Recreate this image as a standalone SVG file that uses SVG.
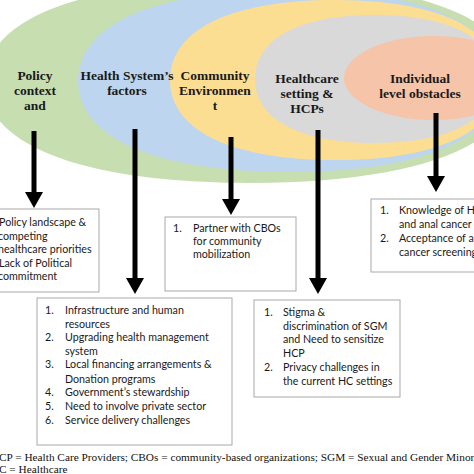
<svg xmlns="http://www.w3.org/2000/svg" width="474" height="474" viewBox="0 0 474 474">
<style>
.lbl{font-family:"Liberation Serif","Times New Roman",serif;font-weight:bold;font-size:13.5px;fill:#1a1a1a;text-anchor:middle}
.box{fill:#fff;stroke:#a9a9a9;stroke-width:1}
.bt{font-family:Lato,"Open Sans",sans-serif;font-size:10.7px;fill:#1a1a1a}
.foot{font-family:"Liberation Serif","Times New Roman",serif;font-size:11.3px;fill:#111}
.arr{stroke:#000;stroke-width:5;fill:none;marker-end:url(#ah)}
</style>
<defs>
<marker id="ah" markerUnits="userSpaceOnUse" viewBox="0 0 16 18" refX="0" refY="9" markerWidth="16" markerHeight="18" orient="auto">
<path d="M0,0 L16,9 L0,18 z" fill="#000"/>
</marker>
</defs>
<rect width="474" height="474" fill="#fff"/>
<g id="ellipses">
<path id="policy-oval" fill="#c6deb0" d="M -15,82 C -15,18.4 83,-19 250,-19 C 417,-19 515,18.4 515,82 C 515,145.6 417,183 250,183 C 83,183 -15,145.6 -15,82 Z"/>
<path id="health-system-oval" fill="#bdd5ee" d="M 78,81 C 78,23.7 156.1,-10 289,-10 C 421.9,-10 500,23.7 500,81 C 500,138.3 421.9,172 289,172 C 156.1,172 78,138.3 78,81 Z"/>
<path id="community-oval" fill="#fcde93" d="M 170,80 C 170,29.6 231,0 335,0 C 439,0 500,29.6 500,80 C 500,130.4 439,160 335,160 C 231,160 170,130.4 170,80 Z"/>
<path id="healthcare-oval" fill="#d9d9d9" d="M 255,79 C 255,38.7 299.4,15 375,15 C 450.6,15 495,38.7 495,79 C 495,119.3 450.6,143 375,143 C 299.4,143 255,119.3 255,79 Z"/>
<ellipse id="individual-oval" cx="434" cy="78" rx="90" ry="42" fill="#f6c4a8"/>
</g>
<g id="policy-label"><text class="lbl" x="35" y="80">Policy</text><text class="lbl" x="35" y="95">context</text><text class="lbl" x="35" y="110">and</text></g>
<g id="health-system-label"><text class="lbl" x="127" y="80">Health System’s</text><text class="lbl" x="127" y="95">factors</text></g>
<g id="community-label"><text class="lbl" x="215" y="80">Community</text><text class="lbl" x="215" y="95">Environmen</text><text class="lbl" x="215" y="110">t</text></g>
<g id="healthcare-label"><text class="lbl" x="307" y="83">Healthcare</text><text class="lbl" x="307" y="98">setting &amp;</text><text class="lbl" x="307" y="113">HCPs</text></g>
<g id="individual-label"><text class="lbl" x="420" y="83">Individual</text><text class="lbl" x="420" y="98">level obstacles</text></g>
<g id="connectors">
<line class="arr" x1="34" y1="131" x2="34" y2="192"/>
<line class="arr" x1="135" y1="129" x2="135" y2="278"/>
<line class="arr" x1="231" y1="137" x2="231" y2="199"/>
<line class="arr" x1="318" y1="130" x2="318" y2="278"/>
<line class="arr" x1="436" y1="113" x2="436" y2="176"/>
</g>
<g id="box-policy">
<rect class="box" x="-5" y="209" width="104" height="83"/>
<text class="bt" x="-1" y="226">Policy landscape &amp;</text>
<text class="bt" x="-2" y="240">competing</text>
<text class="bt" x="-2" y="253">healthcare priorities</text>
<text class="bt" x="-1" y="267">Lack of Political</text>
<text class="bt" x="-2" y="280">commitment</text>
</g>
<g id="box-community">
<rect class="box" x="165" y="217" width="131" height="74"/>
<text class="bt" x="173" y="232">1.</text>
<text class="bt" x="193" y="232">Partner with CBOs</text>
<text class="bt" x="193" y="245">for community</text>
<text class="bt" x="193" y="258">mobilization</text>
</g>
<g id="box-health-system">
<rect class="box" x="37" y="298" width="195" height="147"/>
<text class="bt" x="45" y="314">1.</text><text class="bt" x="65" y="314">Infrastructure and human</text>
<text class="bt" x="65" y="328">resources</text>
<text class="bt" x="45" y="341">2.</text><text class="bt" x="65" y="341">Upgrading health management</text>
<text class="bt" x="65" y="355">system</text>
<text class="bt" x="45" y="368">3.</text><text class="bt" x="65" y="368">Local financing arrangements &amp;</text>
<text class="bt" x="65" y="383">Donation programs</text>
<text class="bt" x="45" y="396">4.</text><text class="bt" x="65" y="396">Government’s stewardship</text>
<text class="bt" x="45" y="410">5.</text><text class="bt" x="65" y="410">Need to involve private sector</text>
<text class="bt" x="45" y="424">6.</text><text class="bt" x="65" y="424">Service delivery challenges</text>
</g>
<g id="box-healthcare">
<rect class="box" x="254" y="300" width="146" height="97"/>
<text class="bt" x="264" y="316">1.</text><text class="bt" x="283" y="316">Stigma &amp;</text>
<text class="bt" x="283" y="330">discrimination of SGM</text>
<text class="bt" x="283" y="343">and Need to sensitize</text>
<text class="bt" x="283" y="357">HCP</text>
<text class="bt" x="264" y="371">2.</text><text class="bt" x="283" y="371">Privacy challenges in</text>
<text class="bt" x="283" y="385">the current HC settings</text>
</g>
<g id="box-individual">
<rect class="box" x="371" y="199" width="110" height="73"/>
<text class="bt" x="380" y="214">1.</text><text class="bt" x="399" y="214">Knowledge of HI</text>
<text class="bt" x="399" y="228">and anal cancer</text>
<text class="bt" x="380" y="242">2.</text><text class="bt" x="399" y="242">Acceptance of a</text>
<text class="bt" x="399" y="256">cancer screening</text>
</g>
<g id="footnote">
<text class="foot" x="-1" y="461">CP = Health Care Providers; CBOs = community-based organizations; SGM = Sexual and Gender Minor</text>
<text class="foot" x="-1" y="473">C = Healthcare</text>
</g>
</svg>
